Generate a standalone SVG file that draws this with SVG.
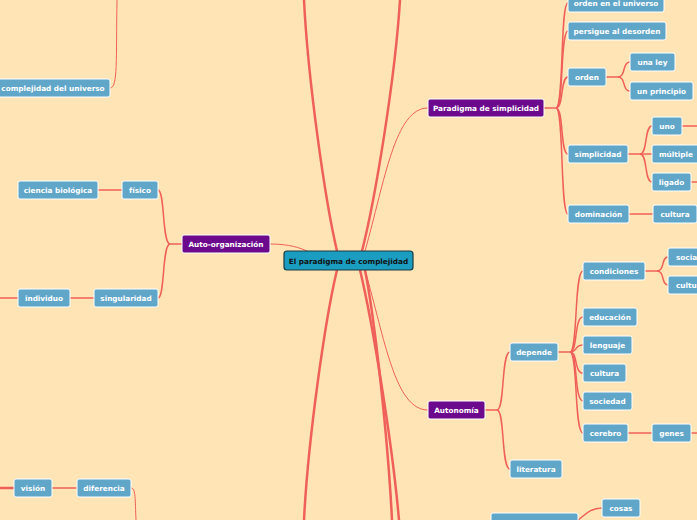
<svg xmlns="http://www.w3.org/2000/svg" width="697" height="520" viewBox="0 0 697 520">
<style>
.n rect{fill:#5fa6c9;stroke:#fff;stroke-width:1}
.p rect{fill:#6b0a8c;stroke:#fff;stroke-width:1}
text{font-family:"DejaVu Sans",Verdana,sans-serif;font-weight:bold;font-size:7.3px;fill:#fff;text-anchor:middle;dominant-baseline:central}
.c path{fill:none;stroke:#f0605a;stroke-width:1.5}
.c .t{stroke-width:2.5}
.c .f{stroke-width:1}
</style>
<rect width="697" height="520" fill="#ffe5b5"/>
<g class="c">
<path class="t" d="M337 251 C325 200 308 80 304 0"/>
<path class="t" d="M362 251 C375 200 395 80 400 0"/>
<path class="t" d="M337 270 C325 320 308 440 304 520"/>
<path class="t" d="M360 270 C372 320 392 440 399 520"/>
<path class="t" d="M365 270 C375 320 388 440 392 520"/>
<path class="f" d="M365 251 C385 180 395 108 428 108"/>
<path class="f" d="M365 270 C385 340 395 410 428 410"/>
<path class="f" d="M270 244 C290 244 300 248 307 251"/>
<path class="f" d="M110 88 C118 88 116 60 117 0"/>
<path d="M182 244 L170 244 C162 244 165 190 158 190"/>
<path d="M170 244 C162 244 165 298 158 298"/>
<path d="M122 190 L98 190"/><path d="M94 298 L70 298"/><path d="M18 298 L0 298"/>
<path d="M77 488 L52 488"/><path class="t" d="M14 488 L0 488"/>
<path class="f" d="M131 488 C136 488 135 500 136 520"/>
<path d="M544 108 L556 108 C564 108 560 3 568 3"/>
<path d="M556 108 C564 108 560 31 568 31"/>
<path d="M556 108 C564 108 560 77 568 77"/>
<path d="M556 108 C564 108 560 154 568 154"/>
<path d="M556 108 C564 108 560 214 568 214"/>
<path d="M606 77 L618 77 C626 77 622 62 630 62"/>
<path d="M618 77 C626 77 622 91 630 91"/>
<path d="M628 154 L640 154 C648 154 644 126 652 126"/>
<path d="M640 154 L652 154"/>
<path d="M640 154 C648 154 644 182 652 182"/>
<path d="M682 126 L697 126"/><path d="M691 182 L697 182"/>
<path d="M629 214 L653 214"/>
<path d="M485 410 L497 410 C505 410 501 352 510 352"/>
<path d="M497 410 C505 410 501 469 510 469"/>
<path d="M558 352 L570 352 C578 352 574 271 583 271"/>
<path d="M570 352 C578 352 574 317 583 317"/>
<path d="M570 352 C578 352 574 345 583 345"/>
<path d="M570 352 C578 352 574 373 583 373"/>
<path d="M570 352 C578 352 574 401 583 401"/>
<path d="M570 352 C578 352 574 433 583 433"/>
<path d="M645 271 L657 271 C665 271 661 257 668 257"/>
<path d="M657 271 C665 271 661 285 668 285"/>
<path d="M628 433 L652 433"/><path d="M691 433 L697 433"/>
<path d="M578 520 C585 515 590 508 602 508"/>
</g>
<g id="center"><rect x="284" y="251" width="129" height="19" rx="3" fill="#1a9dc0" stroke="#1c3a40" stroke-width="1.2"/><text x="348.5" y="261" style="fill:#111">El paradigma de complejidad</text></g>
<g id="autoorg" class="p"><rect x="182" y="235" width="88" height="18" rx="2"/><text x="226" y="244">Auto-organización</text></g>
<g id="fisico" class="n"><rect x="122" y="181" width="36" height="18" rx="2"/><text x="140" y="190">físico</text></g>
<g id="cienciabio" class="n"><rect x="18" y="181" width="80" height="18" rx="2"/><text x="58" y="190">ciencia biológica</text></g>
<g id="singularidad" class="n"><rect x="94" y="289" width="64" height="18" rx="2"/><text x="126" y="298">singularidad</text></g>
<g id="individuo" class="n"><rect x="18" y="289" width="52" height="18" rx="2"/><text x="44" y="298">individuo</text></g>
<g id="complejidad" class="n"><rect x="-5" y="79" width="115" height="18" rx="2"/><text x="53" y="88">complejidad del universo</text></g>
<g id="vision" class="n"><rect x="14" y="479" width="38" height="18" rx="2"/><text x="33" y="488">visión</text></g>
<g id="diferencia" class="n"><rect x="77" y="479" width="54" height="18" rx="2"/><text x="104" y="488">diferencia</text></g>
<g id="simplicidadP" class="p"><rect x="428" y="99" width="116" height="18" rx="2"/><text x="486" y="108">Paradigma de simplicidad</text></g>
<g id="ordenuniv" class="n"><rect x="568" y="-6" width="96" height="18" rx="2"/><text x="616" y="3">orden en el universo</text></g>
<g id="persigue" class="n"><rect x="568" y="22" width="98" height="18" rx="2"/><text x="617" y="31">persigue al desorden</text></g>
<g id="orden" class="n"><rect x="568" y="68" width="38" height="18" rx="2"/><text x="587" y="77">orden</text></g>
<g id="unaley" class="n"><rect x="630" y="53" width="45" height="18" rx="2"/><text x="652.5" y="62">una ley</text></g>
<g id="unprincipio" class="n"><rect x="630" y="82" width="63" height="18" rx="2"/><text x="661.5" y="91">un principio</text></g>
<g id="simplicidad" class="n"><rect x="568" y="145" width="60" height="18" rx="2"/><text x="598" y="154">simplicidad</text></g>
<g id="uno" class="n"><rect x="652" y="117" width="30" height="18" rx="2"/><text x="667" y="126">uno</text></g>
<g id="multiple" class="n"><rect x="652" y="145" width="50" height="18" rx="2"/><text x="676" y="154">múltiple</text></g>
<g id="ligado" class="n"><rect x="652" y="173" width="39" height="18" rx="2"/><text x="671.5" y="182">ligado</text></g>
<g id="dominacion" class="n"><rect x="568" y="205" width="61" height="18" rx="2"/><text x="598.5" y="214">dominación</text></g>
<g id="cultura1" class="n"><rect x="653" y="205" width="44" height="18" rx="2"/><text x="675" y="214">cultura</text></g>
<g id="autonomia" class="p"><rect x="428" y="401" width="57" height="18" rx="2"/><text x="456.5" y="410">Autonomía</text></g>
<g id="depende" class="n"><rect x="510" y="343" width="48" height="18" rx="2"/><text x="534" y="352">depende</text></g>
<g id="literatura" class="n"><rect x="510" y="460" width="52" height="18" rx="2"/><text x="536" y="469">literatura</text></g>
<g id="condiciones" class="n"><rect x="583" y="262" width="62" height="18" rx="2"/><text x="614" y="271">condiciones</text></g>
<g id="social" class="n"><rect x="668" y="248" width="40" height="18" rx="2"/><text x="676" y="257" style="text-anchor:start">social</text></g>
<g id="cultural" class="n"><rect x="668" y="276" width="40" height="18" rx="2"/><text x="676" y="285" style="text-anchor:start">cultural</text></g>
<g id="educacion" class="n"><rect x="583" y="308" width="54" height="18" rx="2"/><text x="610" y="317">educación</text></g>
<g id="lenguaje" class="n"><rect x="583" y="336" width="49" height="18" rx="2"/><text x="607.5" y="345">lenguaje</text></g>
<g id="cultura2" class="n"><rect x="583" y="364" width="43" height="18" rx="2"/><text x="604.5" y="373">cultura</text></g>
<g id="sociedad" class="n"><rect x="583" y="392" width="49" height="18" rx="2"/><text x="607.5" y="401">sociedad</text></g>
<g id="cerebro" class="n"><rect x="583" y="424" width="45" height="18" rx="2"/><text x="605.5" y="433">cerebro</text></g>
<g id="genes" class="n"><rect x="652" y="424" width="39" height="18" rx="2"/><text x="671.5" y="433">genes</text></g>
<g id="cosas" class="n"><rect x="602" y="499" width="38" height="18" rx="2"/><text x="621" y="508">cosas</text></g>
<g id="bottomnode" class="n"><rect x="491" y="513" width="87" height="18" rx="2"/></g>
</svg>
